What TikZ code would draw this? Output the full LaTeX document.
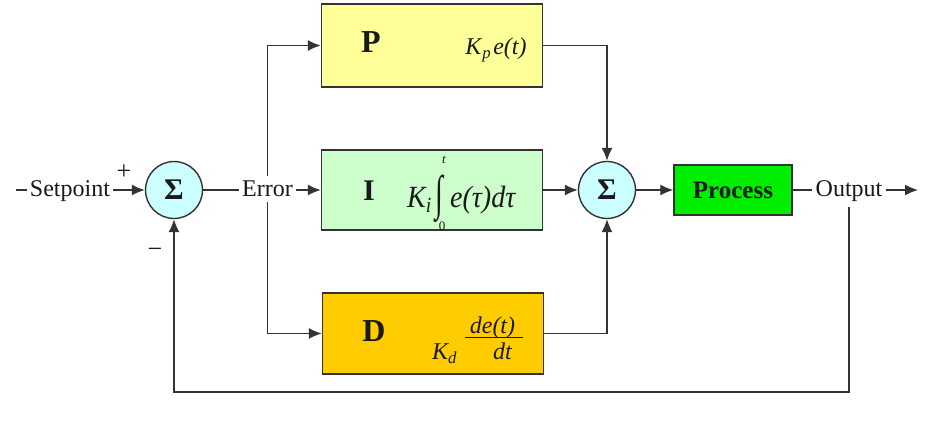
\documentclass[tikz,border=0pt]{standalone}
\usepackage{fontspec}
\setmainfont{Liberation Serif}
\usetikzlibrary{arrows.meta}
\definecolor{pfill}{HTML}{FFFF99}
\definecolor{ifill}{HTML}{CCFFCC}
\definecolor{dfill}{HTML}{FFCC00}
\definecolor{procfill}{HTML}{00EE00}
\definecolor{sumfill}{HTML}{CCFFFF}
\definecolor{linec}{HTML}{333333}
\definecolor{txt}{HTML}{1A1A1A}
\begin{document}
\begin{tikzpicture}[x=1pt,y=-1pt,
  conn/.style={line width=1.3pt, draw=linec},
  arr/.style={conn, -{Latex[length=13pt,width=11pt]}},
  blk/.style={draw=linec, line width=1.4pt, minimum width=221pt, inner sep=0pt},
  sumc/.style={circle, draw=linec, line width=1.4pt, fill=sumfill, minimum size=57pt, inner sep=0pt, text=txt, font=\fontsize{30}{30}\selectfont\bfseries},
  lbl/.style={font=\fontsize{24}{24}\selectfont, text=txt, inner ysep=5pt, inner xsep=3pt, anchor=base},
  bigl/.style={font=\fontsize{32}{32}\selectfont\bfseries, text=txt, anchor=base, inner sep=0pt},
  fitem/.style={font=\fontsize{28}{28}\selectfont\itshape, text=txt, inner sep=0pt},
  fitemb/.style={font=\fontsize{24}{24}\selectfont\itshape, text=txt, inner sep=0pt},
  limit/.style={font=\fontsize{13}{13}\selectfont, text=txt, inner sep=0pt},
  sign/.style={font=\fontsize{26}{26}\selectfont, text=txt, inner sep=0pt},
]
\useasboundingbox (0,0) rectangle (938,438);
\fill[white] (0,0) rectangle (938,438);

% blocks
\node[sumc] (s1) at (174,190) {Σ};
\node[blk, fill=pfill, minimum height=83pt] (P) at (432,45.5) {};
\node[blk, fill=ifill, minimum height=80pt] (I) at (432,190) {};
\node[blk, fill=dfill, minimum height=81pt] (D) at (433,333.5) {};
\node[sumc] (s2) at (607,190) {Σ};
\node[draw=linec, line width=1.4pt, fill=procfill, minimum width=118pt, minimum height=50pt, inner sep=0pt, text=txt, font=\fontsize{25}{25}\selectfont\bfseries] (proc) at (733,190) {Process};

% labels on lines
\node[lbl] (sp) at (70,197) {Setpoint};
\coordinate (spin) at (16,190);
\node[lbl, fill=white] (err) at (267.5,197) {Error};
\node[lbl] (out) at (849,197) {Output};
\coordinate (oend) at (918,190);
\coordinate (fbc) at (174,392);
\node[sign] (plus) at (124,172) {+};
\node[sign] (minus) at (155,253) {−};

% block texts
\node[bigl] (Pl) at (371,53) {P};
\node[fitemb, anchor=base] (Pf) at (496,55) {K\kern1pt\textsubscript{p}\kern2pt e(t)};

\node[font=\fontsize{30}{30}\selectfont\bfseries, text=txt, anchor=base, inner sep=0pt] (Il) at (369,201) {I};
\node[fitem, anchor=base west] (Ik) at (407,208) {\scalebox{1}[1.1]{K\textsubscript{i}}};
\node[font=\fontsize{22}{22}\selectfont, text=txt, inner sep=0pt] (Iint) at (439,199) {\scalebox{1.3}[2.2]{∫}};
\node[limit, font=\fontsize{13}{13}\selectfont\itshape] (It) at (444,160) {t};
\node[limit] (I0) at (442,226) {0};
\node[fitem, anchor=base west] (Ie) at (450,208) {\scalebox{1}[1.1]{e(τ)dτ}};

\node[bigl] (Dl) at (374,342) {D};
\node[fitemb, anchor=base west] (Dk) at (432,360) {K\textsubscript{d}};
\node[fitemb, anchor=base] (Dn) at (492.5,334) {de(t)};
\node[fitemb, anchor=base] (Dd) at (502.5,360) {dt};
\draw[line width=1.3pt, draw=txt] (465,337.5) -- (523,337.5);

% connectors
\draw[conn] (spin) -- (spin -| sp.west);
\draw[arr] (sp.east |- s1) -- (s1.west);
\draw[conn] (s1.east) -- (s1 -| err.west);
\draw[arr] (err.east |- I) -- (I.west);
\draw[arr] (err.north) |- (P.west);
\draw[arr] (err.south) |- (D.west);
\draw[arr] (P.east) -| (s2.north);
\draw[arr] (I.east) -- (s2.west);
\draw[arr] (D.east) -| (s2.south);
\draw[arr] (s2.east) -- (proc.west);
\draw[conn] (proc.east) -- (proc.east -| out.west);
\draw[arr] (out.east |- oend) -- (oend);
\draw[arr] (out.south) |- (fbc) -- (s1.south);
\end{tikzpicture}
\end{document}
